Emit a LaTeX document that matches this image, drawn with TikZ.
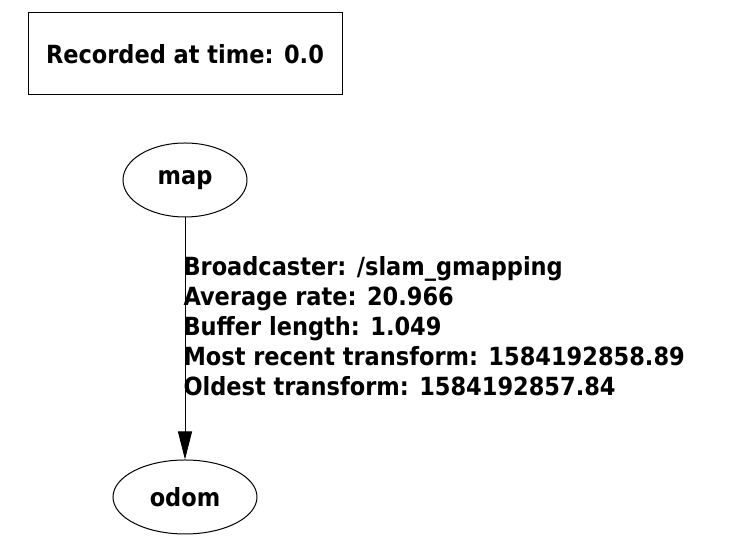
\documentclass[tikz,border=0pt]{standalone}
\usepackage{fontspec}
\setmainfont{DejaVu Sans Condensed}
\usetikzlibrary{shapes.geometric,arrows.meta}
\begin{document}
\begin{tikzpicture}[x=1pt,y=1pt,
  txt/.style={font=\fontsize{25}{30}\selectfont\bfseries},
  el/.style={ellipse,draw,line width=1pt,minimum width=#1,minimum height=74,inner sep=0pt,txt}]
\useasboundingbox (0,0) rectangle (756,556);
\node[draw,line width=1pt,minimum width=314,minimum height=82,txt] (rec) at (185,502) {Recorded at time: 0.0};
\node[el=124] (map) at (185,376) {map};
\node[el=144] (odom) at (185,59) {odom};
\draw[line width=1pt,-{Triangle[length=28,width=14]}] (map) -- (odom)
  node[pos=0.45,right=-2pt,align=left,txt,anchor=west,inner sep=0pt] (lab) {Broadcaster: /slam\_gmapping\\Average rate: 20.966\\Buffer length: 1.049\\Most recent transform: 1584192858.89\\Oldest transform: 1584192857.84};
\end{tikzpicture}
\end{document}
